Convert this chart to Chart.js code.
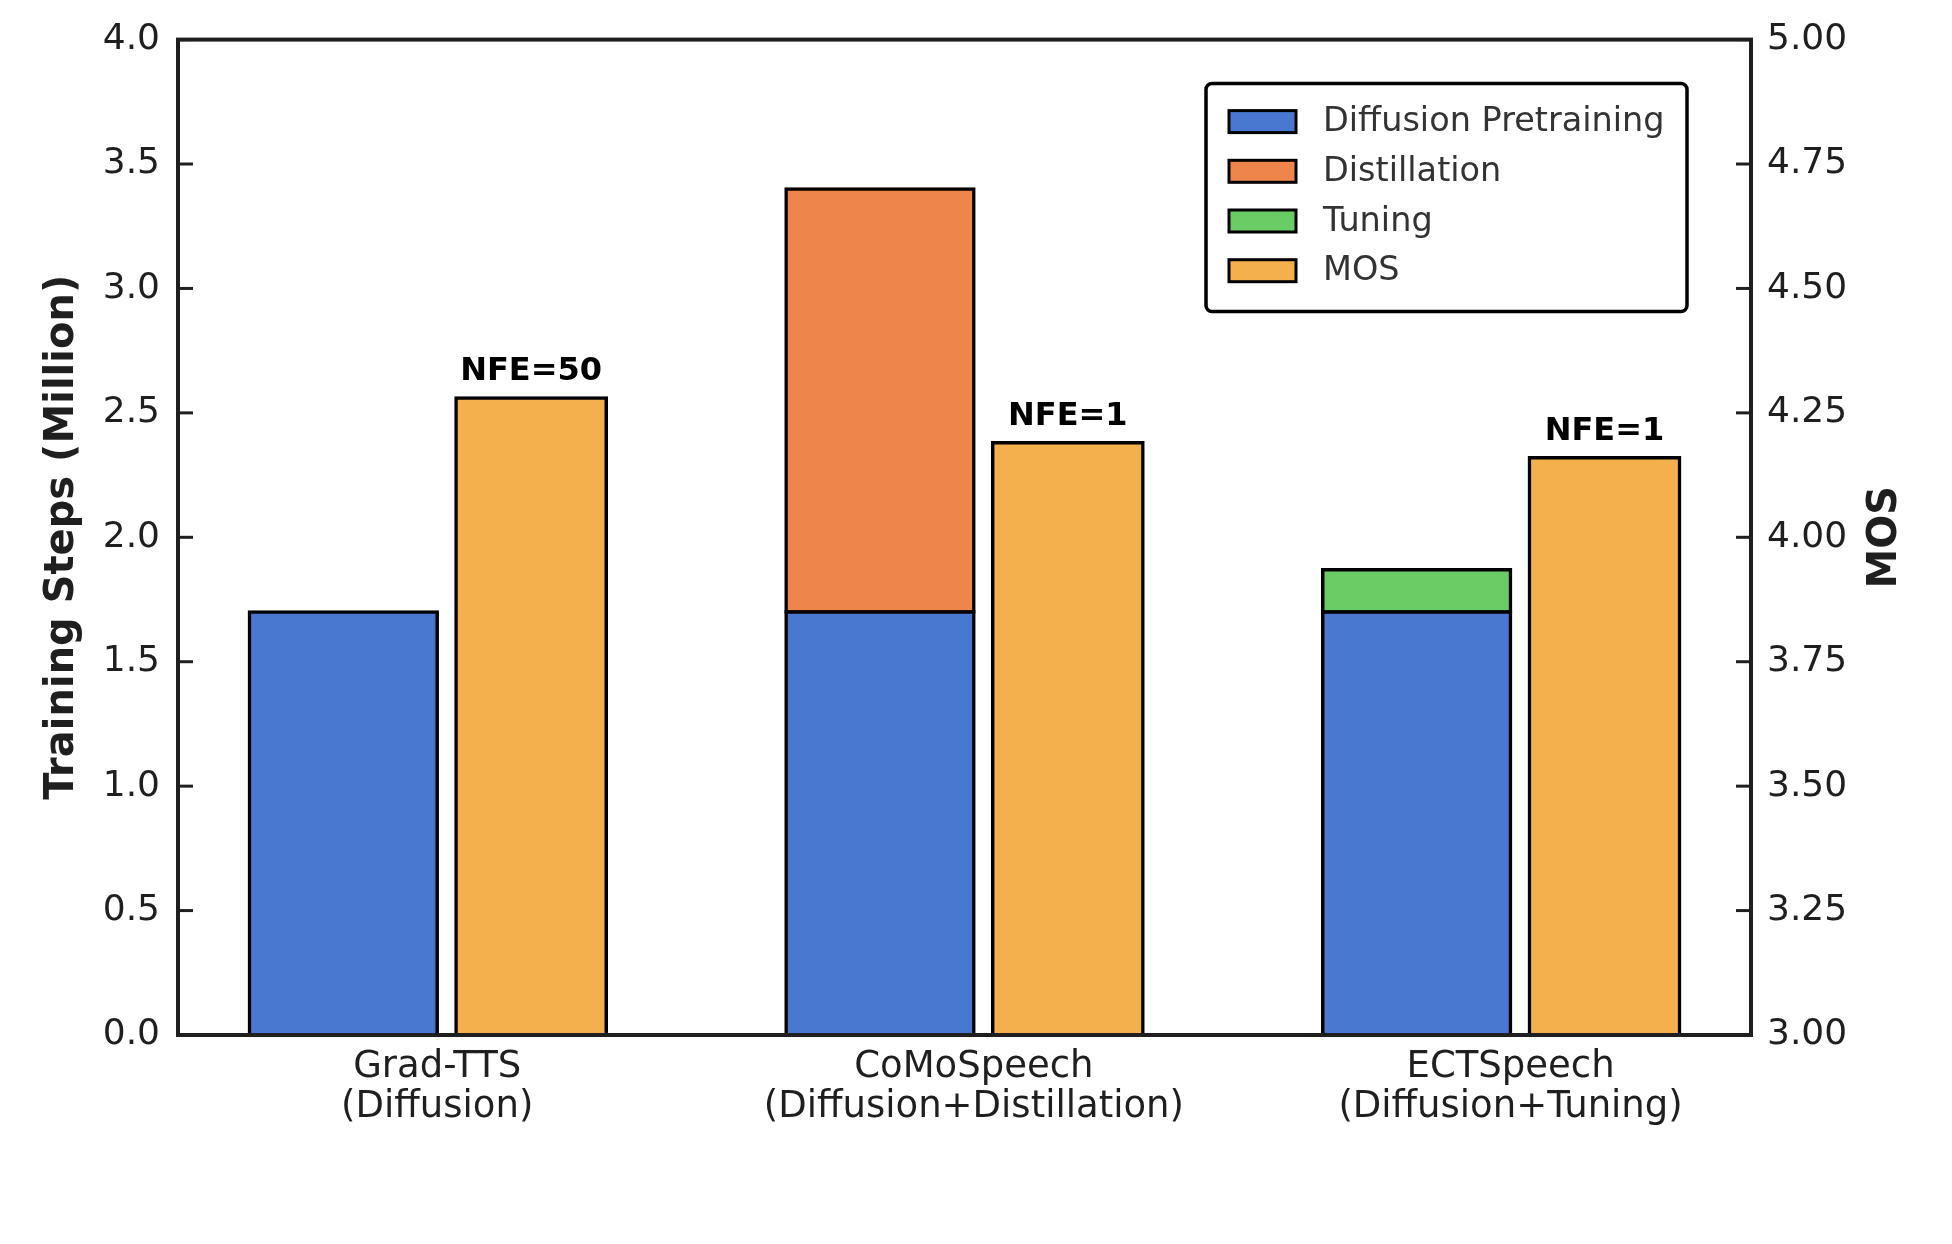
<!DOCTYPE html>
<html>
<head>
<meta charset="utf-8">
<title>Training Steps vs MOS</title>
<script src="https://cdn.jsdelivr.net/npm/chart.js@4.4.1/dist/chart.umd.min.js"></script>
<style>
    html, body { margin: 0; padding: 0; background: #ffffff; }
    #wrap { width: 1952px; height: 1244px; position: relative; }
</style>
</head>
<body>
<div id="wrap"><canvas id="stepsChart"></canvas></div>
<script>
// Data dari grafik
const categories = ['Grad-TTS', 'CoMoSpeech', 'ECTSpeech'];
const methodLabels = ['(Diffusion)', '(Diffusion+Distillation)', '(Diffusion+Tuning)'];
const pretrainSteps = [1.7, 1.7, 1.7];
const distillSteps = [null, 1.7, null];
const tuningSteps = [null, null, 0.17];
const mosScores = [4.28, 4.19, 4.16];
const nfeLabels = ['NFE=50', 'NFE=1', 'NFE=1'];

const seriesNames = ['Diffusion Pretraining', 'Distillation', 'Tuning', 'MOS'];
const seriesColors = ['#4878CF', '#EE854A', '#6ACC64', '#F4B04C'];

// bar geometry (in category units)
const BAR_SHIFT = 0.175;
const INK = '#1f1f1f';

Chart.defaults.font.family = "'DejaVu Sans', sans-serif";
Chart.defaults.color = INK;

function points(values, shift) {
    return values.map((v, i) => ({ x: i + shift, y: v }));
}

// Frame + inward tick marks, drawn on top of bars like matplotlib spines
const framePlugin = {
    id: 'frame',
    afterDatasetsDraw(chart) {
        const ctx = chart.ctx;
        const area = chart.chartArea;
        ctx.save();
        ctx.strokeStyle = INK;
        ctx.lineWidth = 3;
        ['y', 'y1'].forEach(id => {
            const scale = chart.scales[id];
            const left = id === 'y';
            scale.ticks.forEach(t => {
                const py = scale.getPixelForValue(t.value);
                ctx.beginPath();
                if (left) {
                    ctx.moveTo(area.left, py);
                    ctx.lineTo(area.left + 15, py);
                } else {
                    ctx.moveTo(area.right, py);
                    ctx.lineTo(area.right - 15, py);
                }
                ctx.stroke();
            });
        });
        ctx.lineWidth = 4;
        ctx.strokeRect(area.left, area.top, area.right - area.left, area.bottom - area.top);
        ctx.restore();
    }
};

// NFE labels above MOS bars
const nfePlugin = {
    id: 'nfe',
    afterDatasetsDraw(chart) {
        const ctx = chart.ctx;
        const meta = chart.getDatasetMeta(3);
        ctx.save();
        ctx.font = "bold 32px 'DejaVu Sans'";
        ctx.fillStyle = '#000000';
        ctx.textAlign = 'center';
        ctx.textBaseline = 'alphabetic';
        meta.data.forEach((bar, i) => {
            ctx.fillText(nfeLabels[i], bar.x, bar.y - 18);
        });
        ctx.restore();
    }
};

// Axis titles (both rotated counter-clockwise) and boxed legend
const decorPlugin = {
    id: 'decor',
    afterDraw(chart) {
        const ctx = chart.ctx;
        const area = chart.chartArea;
        const midY = (area.top + area.bottom) / 2;
        ctx.save();
        ctx.font = "bold 40px 'DejaVu Sans'";
        ctx.fillStyle = INK;
        ctx.textAlign = 'center';
        ctx.textBaseline = 'middle';
        [['Training Steps (Million)', 63], ['MOS', area.right + 135]].forEach(([txt, x]) => {
            ctx.save();
            ctx.translate(x, midY);
            ctx.rotate(-Math.PI / 2);
            ctx.fillText(txt, 0, 0);
            ctx.restore();
        });

        // legend box
        const bx = area.right - 545, by = area.top + 44, bw = 481, bh = 228;
        ctx.beginPath();
        ctx.roundRect(bx, by, bw, bh, 6);
        ctx.fillStyle = '#ffffff';
        ctx.fill();
        ctx.lineWidth = 3.5;
        ctx.strokeStyle = '#000000';
        ctx.stroke();

        ctx.font = "33.5px 'DejaVu Sans'";
        ctx.textAlign = 'left';
        seriesNames.forEach((name, i) => {
            const cy = by + 38 + i * 49.7;
            ctx.fillStyle = seriesColors[i];
            ctx.fillRect(bx + 23, cy - 11, 67, 22);
            ctx.lineWidth = 3;
            ctx.strokeRect(bx + 23, cy - 11, 67, 22);
            ctx.fillStyle = '#333333';
            ctx.fillText(name, bx + 117, cy + 1);
        });
        ctx.restore();
    }
};

// inflateAmount: edge centred on the bar outline, as in matplotlib
const barBase = {
    grouped: false, categoryPercentage: 1.0, borderColor: '#000000',
    borderWidth: 3.5, inflateAmount: 1.75, borderSkipped: false
};

const chart = new Chart(document.getElementById('stepsChart'), {
    type: 'bar',
    data: {
        datasets: [
            Object.assign({}, barBase, {
                label: seriesNames[0], data: points(pretrainSteps, -BAR_SHIFT),
                backgroundColor: seriesColors[0], yAxisID: 'y', stack: 'steps', barPercentage: 1.0
            }),
            Object.assign({}, barBase, {
                label: seriesNames[1], data: points(distillSteps, -BAR_SHIFT),
                backgroundColor: seriesColors[1], yAxisID: 'y', stack: 'steps', barPercentage: 1.0
            }),
            Object.assign({}, barBase, {
                label: seriesNames[2], data: points(tuningSteps, -BAR_SHIFT),
                backgroundColor: seriesColors[2], yAxisID: 'y', stack: 'steps', barPercentage: 1.0
            }),
            Object.assign({}, barBase, {
                label: seriesNames[3], data: points(mosScores, BAR_SHIFT),
                backgroundColor: seriesColors[3], yAxisID: 'y1', barPercentage: 0.8
            })
        ]
    },
    options: {
        responsive: true,
        maintainAspectRatio: false,
        animation: false,
        layout: { padding: { top: 36, left: 0, right: 0, bottom: 0 } },
        plugins: { legend: { display: false }, tooltip: { enabled: false } },
        scales: {
            x: {
                type: 'linear',
                offset: false,
                min: -0.483,
                max: 2.448,
                grid: { display: false, drawTicks: false },
                border: { display: false },
                afterBuildTicks: scale => { scale.ticks = categories.map((c, i) => ({ value: i })); },
                afterFit: scale => { scale.height = 209; },
                ticks: {
                    autoSkip: false,
                    maxRotation: 0,
                    padding: 12,
                    color: INK,
                    font: { size: 37, lineHeight: 1.08 },
                    callback: v => [categories[v], methodLabels[v]]
                }
            },
            y: {
                position: 'left',
                stacked: true,
                min: 0,
                max: 4,
                grid: { display: false, drawTicks: false },
                border: { display: false },
                afterFit: scale => { scale.width = 178; },
                ticks: { stepSize: 0.5, padding: 18, color: INK, font: { size: 36 }, callback: v => v.toFixed(1) }
            },
            y1: {
                position: 'right',
                min: 3,
                max: 5,
                grid: { display: false, drawTicks: false },
                border: { display: false },
                afterFit: scale => { scale.width = 201; },
                ticks: { stepSize: 0.25, padding: 16, color: INK, font: { size: 36 }, callback: v => v.toFixed(2) }
            }
        }
    },
    plugins: [framePlugin, nfePlugin, decorPlugin]
});
</script>
</body>
</html>
